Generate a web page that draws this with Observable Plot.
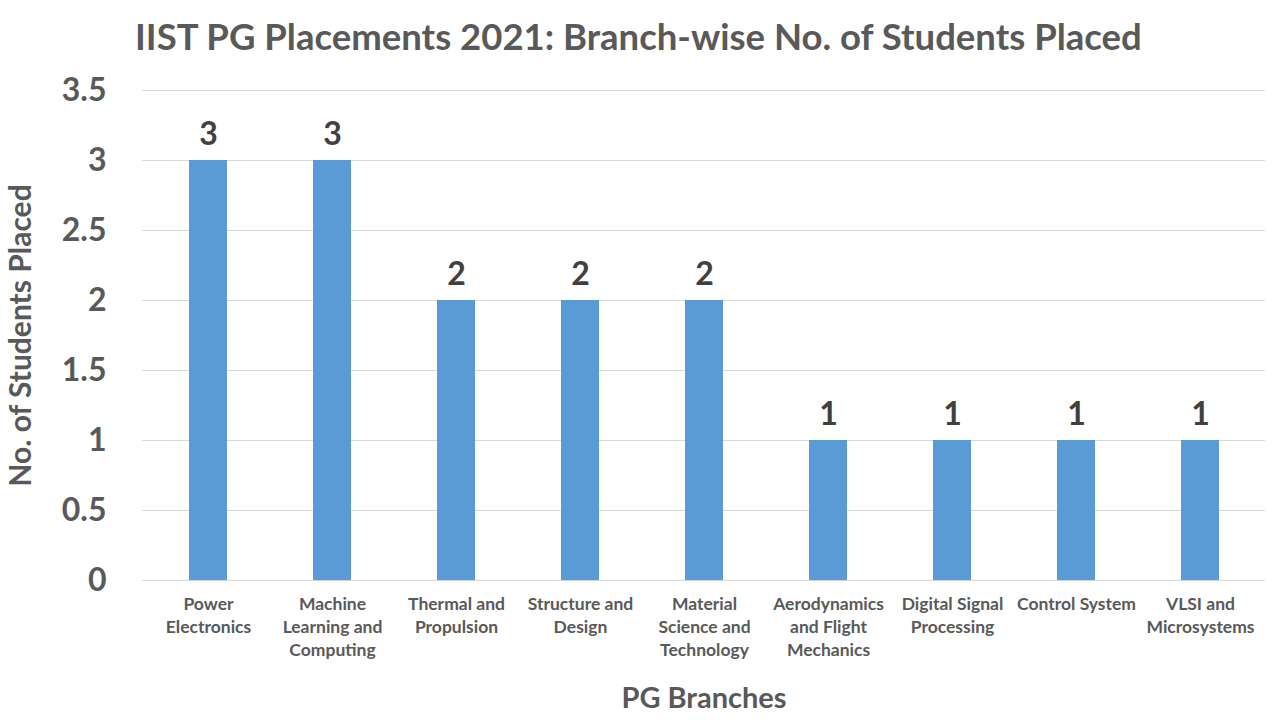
<!DOCTYPE html>
<html><head><meta charset="utf-8">
<script src="https://cdn.jsdelivr.net/npm/d3@7"></script>
<script src="https://cdn.jsdelivr.net/npm/@observablehq/plot@0.6"></script>
<style>
body{margin:0;background:#fff;font-family:Lato,"Open Sans",sans-serif;}
#title{height:70px;line-height:72px;text-align:left;padding-left:135px;font-size:36.5px;font-weight:bold;color:#595959;white-space:nowrap;}
</style></head><body>
<div id="title">IIST PG Placements 2021: Branch-wise No. of Students Placed</div>
<div id="chart"></div>
<script>
const branches = ["Power Electronics","Machine Learning and Computing","Thermal and Propulsion","Structure and Design","Material Science and Technology","Aerodynamics and Flight Mechanics","Digital Signal Processing","Control System","VLSI and Microsystems"];
const tickLabels = ["Power\nElectronics","Machine\nLearning and\nComputing","Thermal and\nPropulsion","Structure and\nDesign","Material\nScience and\nTechnology","Aerodynamics\nand Flight\nMechanics","Digital Signal\nProcessing","Control System","VLSI and\nMicrosystems"];
const placed = [3,3,2,2,2,1,1,1,1];
const yTicks = [0,0.5,1,1.5,2,2.5,3,3.5];
const data = branches.map((b,i)=>({branch:b, value:placed[i]}));
const labelMap = new Map(branches.map((b,i)=>[b,tickLabels[i]]));
const chart = Plot.plot({
  width:1280, height:650,
  marginTop:20, marginBottom:140, marginLeft:142, marginRight:15,
  style:{fontFamily:"Lato, 'Open Sans', sans-serif", color:"#595959", background:"#fff"},
  x:{domain:branches, paddingInner:0.695, paddingOuter:0.3475},
  y:{domain:[0,3.5]},
  marks:[
    Plot.gridY(yTicks,{stroke:"#D9D9D9", strokeOpacity:1}),
    Plot.ruleY([0],{stroke:"#D9D9D9"}),
    Plot.barY(data,{x:"branch", y:"value", fill:"#5B9BD5"}),
    Plot.text(data,{x:"branch", y:"value", text:d=>String(d.value), dy:-26, fontSize:32, fontWeight:"bold", fill:"#404040"}),
    Plot.axisY(yTicks,{tickSize:0, tickPadding:36, fontSize:32, fontWeight:"bold", fill:"#595959", tickFormat:d=>String(d), label:"No. of Students Placed", labelAnchor:"center", labelOffset:133, labelArrow:"none"}),
    Plot.axisX({tickSize:0, tickPadding:13, fontSize:17.5, fontWeight:"bold", fill:"#595959", lineHeight:1.32, tickFormat:d=>labelMap.get(d), label:"PG Branches", labelAnchor:"center", labelOffset:127, labelArrow:"none"})
  ]
});
chart.querySelectorAll("g[aria-label='y-axis label'] text").forEach(t=>{t.setAttribute("font-size","30");t.setAttribute("font-weight","bold");t.setAttribute("fill","#595959");});
chart.querySelectorAll("g[aria-label='x-axis label'] text").forEach(t=>{t.setAttribute("font-size","29");t.setAttribute("font-weight","bold");t.setAttribute("fill","#595959");});
document.getElementById("chart").appendChild(chart);
</script></body></html>
